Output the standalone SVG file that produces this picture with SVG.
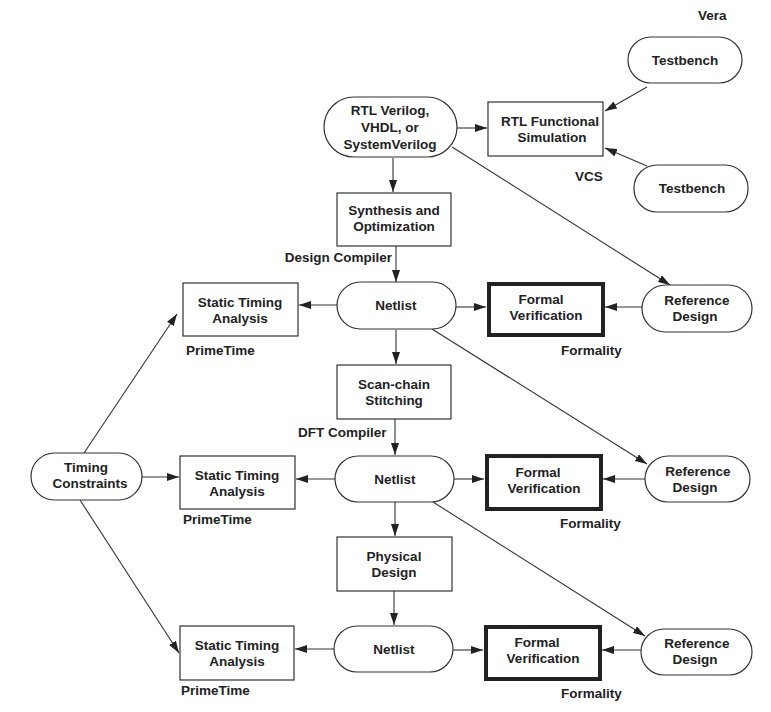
<svg xmlns="http://www.w3.org/2000/svg" width="771" height="712" viewBox="0 0 771 712">
<style>
text{font-family:"Liberation Sans",Arial,sans-serif;font-weight:bold;font-size:13.5px;fill:#222;text-anchor:middle}
.l{text-anchor:start}
.n{fill:#fff;stroke:#333;stroke-width:1.2}
.fv{fill:#fff;stroke:#222;stroke-width:4}
#c line{stroke:#333;stroke-width:1.1;marker-end:url(#a)}
</style>
<defs><marker id="a" viewBox="0 0 12 8" refX="12" refY="4" markerWidth="12" markerHeight="8" markerUnits="userSpaceOnUse" orient="auto"><path d="M0,0L12,4L0,8z" fill="#222"/></marker></defs>
<rect width="771" height="712" fill="#fff"/>
<g id="c">
<line x1="647" y1="87" x2="605" y2="111"/>
<line x1="647" y1="166" x2="605" y2="148"/>
<line x1="457" y1="128" x2="487" y2="128"/>
<line x1="393" y1="158" x2="393" y2="192"/>
<line x1="452" y1="147" x2="670" y2="285"/>
<line x1="396" y1="246" x2="396" y2="282"/>
<line x1="337" y1="305" x2="299" y2="305"/>
<line x1="456" y1="307" x2="486" y2="307"/>
<line x1="642" y1="307" x2="605" y2="307"/>
<line x1="396" y1="330" x2="396" y2="364"/>
<line x1="432" y1="329" x2="647" y2="464"/>
<line x1="395" y1="419" x2="395" y2="455"/>
<line x1="335" y1="479" x2="296" y2="479"/>
<line x1="454" y1="479" x2="484" y2="479"/>
<line x1="645" y1="479" x2="603" y2="479"/>
<line x1="395" y1="502" x2="395" y2="536"/>
<line x1="433" y1="502" x2="645" y2="636"/>
<line x1="394" y1="591" x2="394" y2="625"/>
<line x1="334" y1="649" x2="295" y2="649"/>
<line x1="453" y1="650" x2="483" y2="650"/>
<line x1="641" y1="650" x2="602" y2="650"/>
<line x1="142" y1="477" x2="179" y2="477"/>
<line x1="84" y1="453" x2="177" y2="314"/>
<line x1="80" y1="500" x2="179" y2="653"/>
</g>
<g id="tb1"><rect class="n" x="628" y="37" width="114" height="46" rx="23"/><text x="685" y="65">Testbench</text></g>
<text x="698" y="20" class="l">Vera</text>
<g id="rtl"><rect class="n" x="324" y="97" width="133" height="60" rx="30"/><text x="390" y="115">RTL Verilog,</text><text x="390" y="132">VHDL, or</text><text x="390" y="149">SystemVerilog</text></g>
<g id="sim"><rect class="n" x="488" y="102" width="115" height="54" rx="0"/><text x="550" y="126">RTL Functional</text><text x="552" y="142">Simulation</text></g>
<g id="tb2"><rect class="n" x="634" y="165" width="114" height="47" rx="23"/><text x="692" y="193">Testbench</text></g>
<text x="575" y="181" class="l">VCS</text>
<g id="syn"><rect class="n" x="337" y="193" width="114" height="53"/><text x="394" y="215">Synthesis and</text><text x="394" y="231">Optimization</text></g>
<text x="392" y="262" style="text-anchor:end">Design Compiler</text>
<g id="net1"><rect class="n" x="337" y="282" width="119" height="47" rx="23.5"/><text x="396" y="310">Netlist</text></g>
<g id="sta1"><rect class="n" x="183" y="283" width="115" height="53"/><text x="240" y="307">Static Timing</text><text x="240" y="323">Analysis</text></g>
<text x="186" y="355" class="l">PrimeTime</text>
<g id="fv1"><rect class="fv" x="489" y="284" width="114" height="51"/><text x="541" y="304">Formal</text><text x="546" y="320">Verification</text></g>
<text x="561" y="355" class="l">Formality</text>
<g id="ref1"><rect class="n" x="642" y="285" width="110" height="47" rx="23.5"/><text x="697" y="305">Reference</text><text x="695" y="321">Design</text></g>
<g id="scan"><rect class="n" x="337" y="365" width="114" height="54"/><text x="394" y="389">Scan-chain</text><text x="394" y="405">Stitching</text></g>
<text x="298" y="437" class="l">DFT Compiler</text>
<g id="tc"><rect class="n" x="31" y="453" width="111" height="47" rx="23.5"/><text x="86" y="472">Timing</text><text x="90" y="488">Constraints</text></g>
<g id="sta2"><rect class="n" x="180" y="456" width="115" height="53"/><text x="237" y="480">Static Timing</text><text x="237" y="496">Analysis</text></g>
<text x="183" y="524" class="l">PrimeTime</text>
<g id="net2"><rect class="n" x="335" y="456" width="119" height="46" rx="23"/><text x="395" y="484">Netlist</text></g>
<g id="fv2"><rect class="fv" x="487" y="456" width="114" height="53"/><text x="538" y="477">Formal</text><text x="544" y="493">Verification</text></g>
<text x="560" y="528" class="l">Formality</text>
<g id="ref2"><rect class="n" x="645" y="456" width="105" height="46" rx="23"/><text x="698" y="476">Reference</text><text x="695" y="492">Design</text></g>
<g id="phys"><rect class="n" x="337" y="537" width="115" height="54"/><text x="394" y="561">Physical</text><text x="394" y="577">Design</text></g>
<g id="sta3"><rect class="n" x="180" y="626" width="114" height="54"/><text x="237" y="650">Static Timing</text><text x="237" y="666">Analysis</text></g>
<text x="181" y="695" class="l">PrimeTime</text>
<g id="net3"><rect class="n" x="334" y="626" width="119" height="46" rx="23"/><text x="394" y="654">Netlist</text></g>
<g id="fv3"><rect class="fv" x="486" y="627" width="114" height="52"/><text x="537" y="647">Formal</text><text x="543" y="663">Verification</text></g>
<text x="561" y="698" class="l">Formality</text>
<g id="ref3"><rect class="n" x="641" y="629" width="111" height="46" rx="23"/><text x="697" y="648">Reference</text><text x="695" y="664">Design</text></g>
</svg>
